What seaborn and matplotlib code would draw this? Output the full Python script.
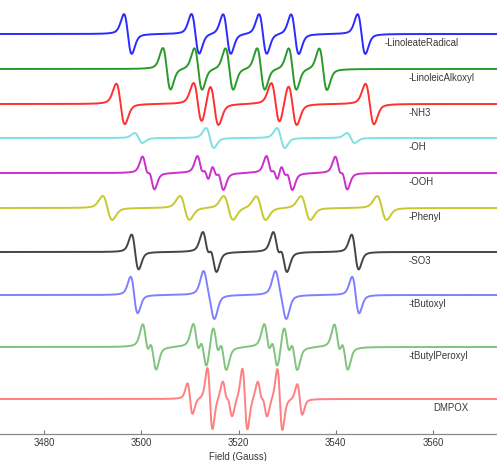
import numpy as np
import pandas as pd
import seaborn as sns
import matplotlib
matplotlib.use('Agg')
import matplotlib.pyplot as plt

# Line positions (Gauss), relative intensities and peak-to-peak widths
names = ['LinoleateRadical', 'LinoleicAlkoxyl', 'NH3', 'OH', 'OOH',
         'Phenyl', 'SO3', 'tButoxyl', 'tButylPeroxyl', 'DMPOX']
labels = ['-LinoleateRadical', '-LinoleicAlkoxyl', '-NH3', '-OH', '-OOH',
          '-Phenyl', '-SO3', '-tButoxyl', '-tButylPeroxyl', 'DMPOX']

lines_linoleate = [3497.2, 3511.1, 3517.6, 3525.0, 3531.6, 3545.3]
lines_alkoxyl = [3505.2, 3511.7, 3518.1, 3524.6, 3531.1, 3537.4]
lines_nh3 = [3495.7, 3511.6, 3515.0, 3527.6, 3531.1, 3547.0]
lines_oh = [3499.4, 3514.1, 3528.7, 3543.1]
lines_ooh = [3500.8, 3502.1, 3512.1, 3513.4, 3515.0, 3516.3,
             3526.3, 3527.6, 3529.2, 3530.5, 3540.5, 3541.8]
lines_phenyl = [3493.0, 3508.9, 3517.9, 3524.6, 3533.8, 3549.5]
lines_so3 = [3498.7, 3513.3, 3514.8, 3527.8, 3529.3, 3544.0]
lines_tbutoxyl = [3498.5, 3513.35, 3514.45, 3528.15, 3529.25, 3544.1]
lines_tbutylperoxyl = [3500.9, 3502.4, 3511.3, 3512.8, 3515.35, 3516.85,
                       3525.9, 3527.4, 3529.95, 3531.45, 3540.35, 3541.85]
lines_dmpox = [3510.0, 3514.1, 3517.2, 3518.2, 3521.3, 3524.4, 3525.4, 3528.5, 3532.6]

int_oh = [1, 2, 2, 1]
int_dmpox = [1, 2, 1, 1, 2, 1, 1, 2, 1]

widths = [1.6, 1.6, 1.75, 1.6, 1.3, 1.95, 1.45, 1.45, 1.35, 1.05]
amplitudes = [20, 21, 21, 10, 17, 12, 20, 24, 23, 31]
offsets = [400, 365, 330, 296, 261, 226, 182, 139, 87, 35]
label_x = [3550.1, 3555.0, 3555.0, 3555.0, 3555.0, 3555.0, 3555.0, 3555.0, 3555.0, 3560.0]

colors = ['#2b2bff', '#2a9a2a', '#ff3030', '#80e0e0', '#cc30cc',
          '#c8c830', '#454545', '#8080ff', '#80c480', '#ff8080']

all_lines = [lines_linoleate, lines_alkoxyl, lines_nh3, lines_oh, lines_ooh,
             lines_phenyl, lines_so3, lines_tbutoxyl, lines_tbutylperoxyl, lines_dmpox]
all_int = [None, None, None, int_oh, None, None, None, None, None, int_dmpox]

field = np.linspace(3470.88, 3573.2, 3000)
lorentz_frac = 0.35


def first_derivative(b, centres, intens, wpp):
    # pseudo-Voigt first-derivative lines, both parts with the same peak-to-peak width
    g = wpp * np.sqrt(3) / 2
    sig = wpp / 2
    if intens is None:
        intens = [1] * len(centres)
    y = np.zeros_like(b)
    for c, a in zip(centres, intens):
        u = (b - c) / g
        lor = -2 * u / (1 + u ** 2) ** 2 / 0.6495
        v = (b - c) / sig
        gau = -v * np.exp(-v ** 2 / 2) / 0.6065
        y += a * (lorentz_frac * lor + (1 - lorentz_frac) * gau)
    return y


frames = []
for i, nm in enumerate(names):
    s = first_derivative(field, all_lines[i], all_int[i], widths[i])
    s = s / np.abs(s).max() * amplitudes[i] + offsets[i]
    frames.append(pd.DataFrame({'field': field, 'signal': s, 'name': nm}))
df = pd.concat(frames, ignore_index=True)

sns.set_theme(style='white')
plt.rcParams['font.family'] = ['Liberation Sans', 'DejaVu Sans']

fig = plt.figure(figsize=(4.97, 4.61), dpi=100)
ax = fig.add_axes([0, 1 - 434 / 461, 1, 434 / 461])

sns.lineplot(data=df, x='field', y='signal', hue='name', palette=dict(zip(names, colors)),
             estimator=None, sort=False, legend=False, linewidth=1.4, ax=ax)

for i in range(len(names)):
    ax.text(label_x[i], offsets[i] - 9, labels[i], fontsize=6.9, color='#383838',
            va='center', ha='left')

ax.set_xlim(3470.88, 3573.2)
ax.set_ylim(0, 434)
ax.set_yticks([])
ax.set_xticks([3480, 3500, 3520, 3540, 3560])
ax.tick_params(axis='x', direction='in', length=3, width=0.8, color='#777777',
               labelsize=6.9, labelcolor='#383838', pad=3, bottom=True)
for sp in ['left', 'right', 'top']:
    ax.spines[sp].set_visible(False)
ax.spines['bottom'].set_color('#888888')
ax.spines['bottom'].set_linewidth(0.9)
ax.set_ylabel('')
ax.set_xlabel('Field (Gauss)', fontsize=6.9, color='#383838')
ax.xaxis.set_label_coords(237.7 / 497, -17.5 / 434)

fig.savefig('out.png', dpi=100)
